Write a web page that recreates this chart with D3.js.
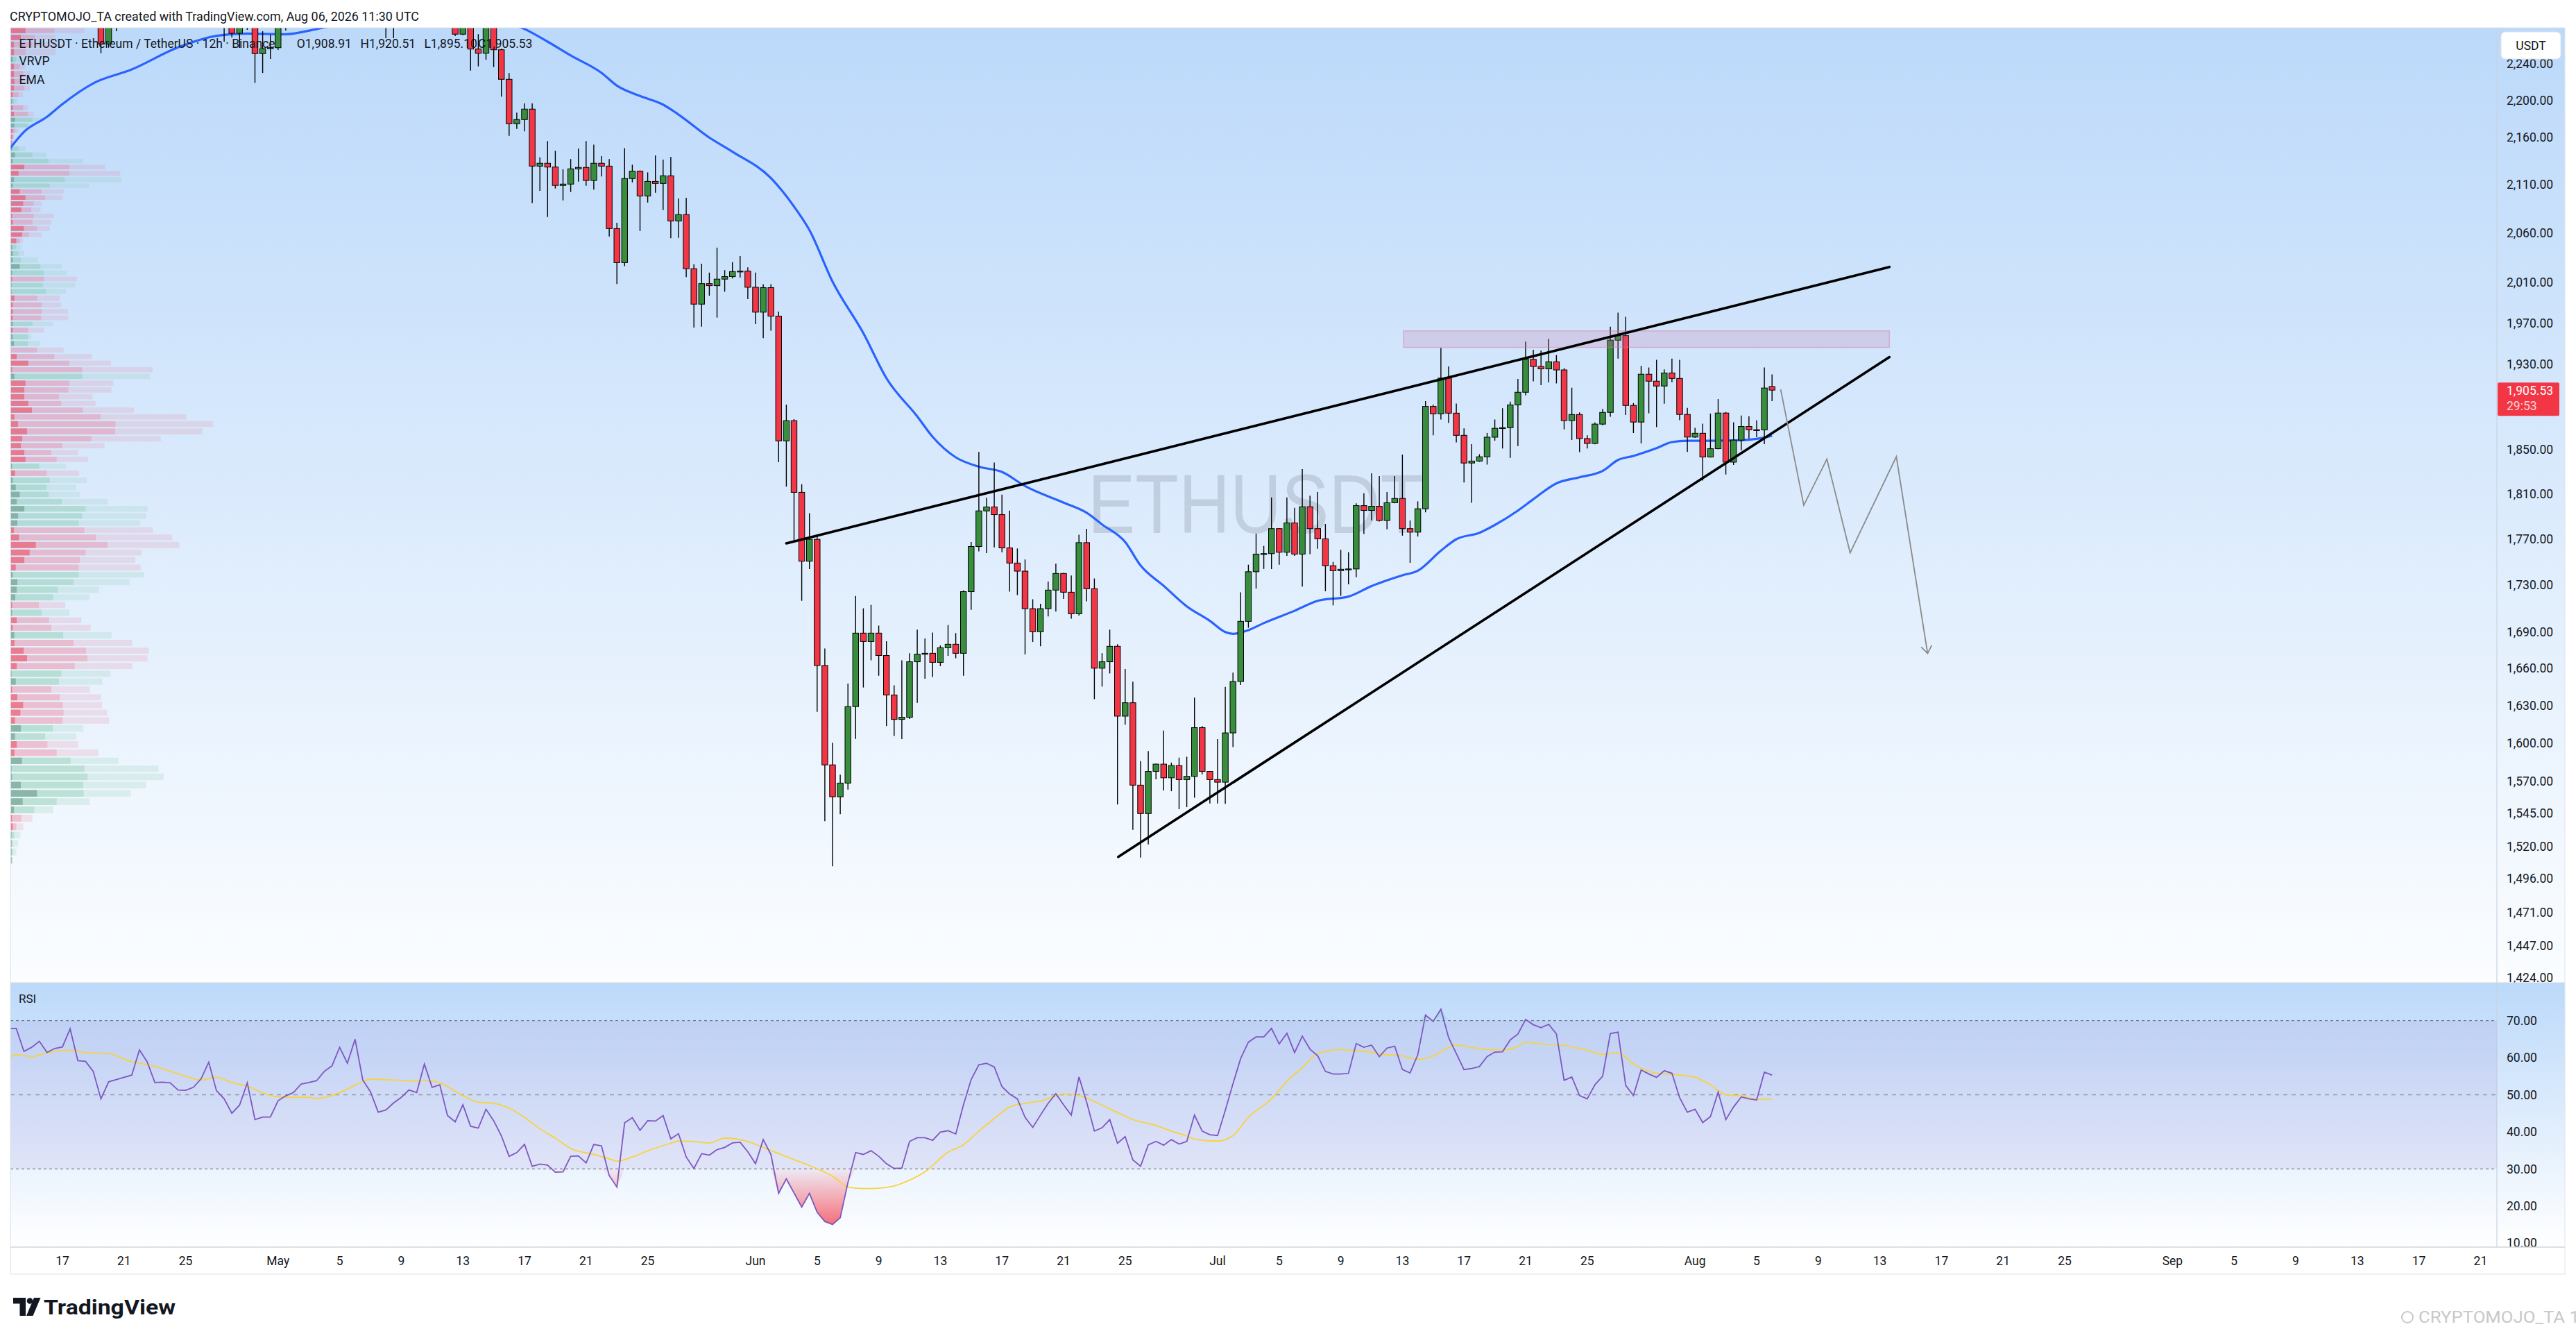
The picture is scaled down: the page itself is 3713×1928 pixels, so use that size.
<!DOCTYPE html>
<html><head><meta charset="utf-8">
<script src="https://cdn.jsdelivr.net/npm/d3@7"></script>
<style>html,body{margin:0;padding:0;background:#fff;}svg{display:block;}text{font-family:Roboto,"Noto Sans",sans-serif;}</style>
</head><body><svg id="c" width="3713" height="1928"></svg>
<script>
// ---------- DATA ----------
const candleStart = Date.UTC(2026,3,13,12);   // first 12h candle
const HALF_DAY = 12*3600*1000;
const open = [2330,2345,2348,2322,2328,2338,2318,2324,2327,2355,2322,2320,2305,2262.2,2292,2296,2300,2304,2342,2328,2306,2307,2305,2297,2296,2300,2310,2330,2295,2286,2274.2,2284,2306,2251.4,2257,2258,2282,2290,2295,2306,2308,2311,2322,2329,2354,2336,2378,2330,2312,2288,2291,2298,2304,2312,2309,2345,2318,2321,2288,2273.2,2296,2256.5,2251.8,2284,2255.7,2222.9,2174.5,2179,2190.3,2129.3,2132.3,2128.3,2109,2110.4,2126.4,2127.9,2114.2,2132.3,2129.3,2064.4,2029.9,2116.2,2123.9,2098,2113.2,2111.1,2119.1,2072.2,2078.7,2023.7,1988.5,2008.8,2006.8,2013.3,2015.8,2020.8,2021.3,2005.2,1980.6,2004.8,1976.7,1858.2,1876.9,1811.4,1750.6,1769.7,1662.4,1582.5,1557.7,1568.3,1628.9,1689.3,1682.3,1689.3,1670.7,1638.3,1618.6,1620.3,1665.5,1671.7,1672.5,1665,1677.1,1680,1672.5,1724.4,1763.4,1794.8,1798.3,1791.5,1762.2,1749,1742,1709.9,1690.5,1709.9,1725.7,1740,1723.9,1705.6,1766.8,1726.9,1660.2,1665.5,1678.3,1621.2,1632,1566.7,1544.8,1577.4,1583.1,1572.4,1582,1571,1573.5,1612,1577.4,1571,1569,1607.8,1649.3,1699.2,1741.5,1756.8,1757.2,1779.1,1758.4,1784.1,1756.8,1798.5,1779.1,1770.1,1746.7,1742.4,1743.6,1743.9,1799.5,1795.2,1798.9,1786.3,1802.1,1805.9,1779.1,1776,1796.7,1890.2,1883.3,1916.9,1883.9,1863.3,1837.9,1839.7,1843.6,1861.6,1869.8,1870.4,1891.6,1903.5,1934.8,1928,1925.7,1932.5,1924.7,1877,1882.6,1860.3,1855.8,1873.7,1884.6,1953.3,1957.7,1891.1,1875.6,1920.6,1914,1909.4,1921.8,1916.6,1882.7,1861.7,1865.2,1843.4,1851,1884,1838.7,1858.9,1871.5,1868.5,1868.3,1908.91];
const high = [2352,2360,2352,2336,2345,2340,2330,2334,2362,2358,2330,2324,2312,2300,2302,2306,2310,2348,2346,2332,2314,2312,2308,2304,2306,2312,2334,2332,2300,2290,2292,2312,2310,2276.5,2272.6,2290,2296,2300,2310,2314,2316,2326,2334,2360,2358,2385,2382,2336,2316,2298,2302,2310,2318,2316,2352,2348,2326,2324,2294,2302,2300,2273.2,2290,2288,2257,2229.9,2186.5,2196.5,2196.5,2138.6,2155.9,2145.5,2125.9,2136.7,2147.9,2155.9,2152.1,2139.8,2136.7,2070.3,2148.4,2130.8,2124.7,2122.7,2140.6,2136.2,2139.1,2095.4,2096.1,2028.3,2028.8,2019.8,2045,2022.3,2030.3,2036.4,2025,2019.8,2008.2,2008.2,1981.1,1891.9,1878.3,1818.7,1792.7,1774.1,1676.4,1600,1574.9,1647.6,1720.7,1710.2,1713.1,1695.6,1682.5,1646.2,1666.7,1672.6,1692.2,1684.9,1689.7,1679,1696.1,1689.3,1725.5,1767.3,1848,1806.6,1838.3,1809.3,1795,1761.7,1752.1,1717.9,1714.1,1733.1,1748.4,1740.5,1738.2,1773.7,1778.9,1735.7,1672.6,1692.2,1680,1659.5,1649.1,1585.4,1593.4,1583.5,1609.7,1584.3,1588.2,1588.9,1636.2,1613.3,1577.6,1602.8,1644.9,1656.5,1723.8,1747.6,1774.7,1763.9,1806.8,1779.5,1806.8,1797.6,1832.3,1808.4,1811.6,1783.2,1750,1760.5,1758.4,1801.6,1810.6,1828.5,1826,1811.6,1826,1845.6,1786.3,1803.3,1895.2,1891.9,1945.8,1928,1892.9,1869.8,1855.1,1845.9,1865.5,1878,1888.5,1894.6,1916.2,1951.9,1944,1943.3,1954.6,1938.9,1926.4,1907.8,1884.6,1863.3,1875.3,1887.8,1966.4,1980.2,1976.1,1893.3,1928.6,1927,1934.3,1925.3,1935.6,1934.3,1888.8,1870.3,1874.1,1883.5,1897.1,1885,1875.4,1881.7,1881,1877.2,1927,1920.51];
const low = [2322,2338,2318,2315,2322,2312,2310,2316,2324,2318,2312,2298,2251.8,2258,2276.5,2288,2292,2300,2322,2300,2298,2298,2292,2290,2291,2296,2306,2292,2264.8,2269.5,2257.8,2278.1,2219,2229.9,2245.4,2255.5,2277.3,2284,2290,2300,2302,2306,2316,2325,2330,2332,2322,2305,2282,2268.7,2268.7,2292,2300,2302,2306,2310,2310,2284,2271,2272.1,2232.5,2237.2,2244.6,2236.4,2203.8,2161.4,2168.9,2166.4,2090.5,2103.4,2076.2,2105.8,2093.4,2102.2,2113,2108.6,2104.6,2118.4,2056.3,2008.4,2026.3,2112.2,2061.9,2091.2,2101.4,2083.4,2054.5,2054.9,2015.3,1965.5,1966.4,1996.9,1975.3,2000.8,2014,2014.8,1993.4,1968.9,1955.2,1962.5,1838.6,1816.5,1768.5,1716.6,1743.8,1624.7,1539,1504.9,1544.3,1563.3,1603,1644.4,1666.7,1654,1613.3,1605.3,1602.8,1619,1632,1651.5,1653,1661.9,1670.4,1668.4,1654,1708.9,1759.1,1757.6,1762.7,1758.4,1724.4,1721.5,1671.5,1681.9,1678.3,1703.3,1707.4,1718.2,1701.5,1704,1716.2,1634.9,1645.1,1655.9,1551.8,1614.4,1532.4,1511.5,1521.4,1571.2,1562.6,1562,1548.1,1549.7,1557,1575.1,1552.5,1552.5,1552.3,1596.5,1646.4,1693.8,1727,1743.9,1743.8,1747.6,1755.2,1755.2,1728.7,1756.8,1761.5,1724.7,1712.7,1720.8,1730.7,1736.8,1774.4,1786.3,1785.4,1778.5,1801.5,1772.9,1749.2,1772.2,1793.6,1863.3,1878,1874.7,1856.7,1820.2,1802.1,1839,1836.5,1858.4,1851.2,1842.6,1853.4,1900.5,1913.9,1910.2,1912.8,1911.9,1868.8,1859,1847.9,1851.2,1855,1872.5,1880.6,1935.5,1882.2,1865.4,1855.8,1883.8,1870.9,1892.8,1913,1877.4,1848,1861,1822,1842.9,1850.5,1827.5,1836.2,1849.5,1860.3,1861.6,1855.1,1895.10];
const close = [2345,2348,2322,2328,2338,2318,2324,2327,2355,2322,2320,2305,2262.2,2292,2296,2300,2304,2342,2328,2306,2307,2305,2297,2296,2300,2310,2330,2295,2286,2274.2,2284,2306,2251.4,2257,2258,2282,2290,2295,2306,2308,2311,2322,2329,2354,2336,2378,2330,2312,2288,2291,2298,2304,2312,2309,2345,2318,2321,2288,2273.2,2296,2256.5,2251.8,2284,2255.7,2222.9,2174.5,2179,2190.3,2129.3,2132.3,2128.3,2109,2110.4,2126.4,2127.9,2114.2,2132.3,2129.3,2064.4,2029.9,2116.2,2123.9,2098,2113.2,2111.1,2119.1,2072.2,2078.7,2023.7,1988.5,2008.8,2006.8,2013.3,2015.8,2020.8,2021.3,2005.2,1980.6,2004.8,1976.7,1858.2,1876.9,1811.4,1750.6,1769.7,1662.4,1582.5,1557.7,1568.3,1628.9,1689.3,1682.3,1689.3,1670.7,1638.3,1618.6,1620.3,1665.5,1671.7,1672.5,1665,1677.1,1680,1672.5,1724.4,1763.4,1794.8,1798.3,1791.5,1762.2,1749,1742,1709.9,1690.5,1709.9,1725.7,1740,1723.9,1705.6,1766.8,1726.9,1660.2,1665.5,1678.3,1621.2,1632,1566.7,1544.8,1577.4,1583.1,1572.4,1582,1571,1573.5,1612,1577.4,1571,1569,1607.8,1649.3,1699.2,1741.5,1756.8,1757.2,1779.1,1758.4,1784.1,1756.8,1798.5,1779.1,1770.1,1746.7,1742.4,1743.6,1743.9,1799.5,1795.2,1798.9,1786.3,1802.1,1805.9,1779.1,1776,1796.7,1890.2,1883.3,1916.9,1883.9,1863.3,1837.9,1839.7,1843.6,1861.6,1869.8,1870.4,1891.6,1903.5,1934.8,1928,1925.7,1932.5,1924.7,1877,1882.6,1860.3,1855.8,1873.7,1884.6,1953.3,1957.7,1891.1,1875.6,1920.6,1914,1909.4,1921.8,1916.6,1882.7,1861.7,1865.2,1843.4,1851,1884,1838.7,1858.9,1871.5,1868.5,1868.3,1907.5,1905.53];

const rsi = [67.8,67.9,61.7,62.8,64.4,61.4,62.5,62.9,67.8,59.2,59.0,56.3,48.9,53.5,54.1,54.7,55.3,62.1,58.9,53.3,53.4,53.2,51.3,51.2,52.0,54.3,58.8,51.1,48.9,45.0,47.2,53.2,43.3,44.0,44.0,48.4,49.7,50.6,52.9,53.3,53.8,56.3,57.8,62.8,58.5,65.0,54.0,50.8,45.3,45.9,47.8,49.3,51.3,50.6,58.3,52.0,52.7,44.4,42.7,47.3,41.5,41.0,46.1,43.0,38.9,33.4,34.4,36.6,30.7,31.3,31.0,29.1,29.2,33.4,33.5,31.6,36.6,36.2,28.2,25.1,42.4,43.8,40.4,43.0,42.9,44.4,38.1,39.5,33.2,30.1,34.1,33.7,35.2,35.8,37.0,37.2,34.6,31.4,37.9,33.9,23.4,27.3,23.5,19.7,23.4,18.3,15.8,15.0,16.8,26.3,34.4,33.9,34.9,33.4,31.4,30.1,30.2,37.4,38.4,38.4,37.7,39.9,40.3,39.4,47.3,54.1,58.1,58.5,57.5,52.2,50.2,48.9,43.9,41.2,44.5,47.7,50.3,47.3,44.5,54.8,48.0,40.2,41.1,43.3,36.9,38.7,32.4,30.7,36.5,37.4,36.4,37.9,36.7,37.4,44.5,40.2,39.2,39.0,45.8,53.0,59.8,64.2,65.6,65.6,67.9,63.7,66.6,61.4,65.8,62.3,60.5,56.3,55.6,55.6,55.8,63.8,62.8,63.4,60.3,62.6,63.1,56.8,55.9,60.8,71.5,69.8,73.1,65.4,61.1,56.8,57.1,57.6,60.3,61.5,61.6,64.8,66.4,70.3,68.9,68.1,69.0,66.4,53.9,54.8,49.8,48.9,52.7,55.0,66.5,66.9,52.5,49.8,56.7,55.6,54.7,56.5,55.8,49.2,45.3,46.1,42.5,44.1,50.7,43.3,46.7,49.4,48.9,48.6,56.1,55.3];
const rsiMaIdx = [0,1,3,5,8,10,13,16,18,21,23,25,27,29,31,34,36,39,40,42,44,46,47,50,53,54,56,59,61,63,65,67,69,71,73,76,78,79,81,83,86,87,89,91,93,96,98,101,104,107,109,110,112,115,116,119,122,124,126,128,130,132,134,137,139,142,144,146,149,151,153,154,157,159,161,164,166,168,170,173,175,177,178,181,183,185,188,190,192,194,196,197,199,202,205,207,209,211,214,216,219,221,223,225,227,229];
const rsiMaVal = [59.8,60.8,60.3,61.3,62.0,61.4,61.1,58.9,58.1,56.4,55.0,54.0,54.7,53.3,52.3,49.8,49.3,49.3,49.0,49.8,51.5,53.6,54.2,54.0,53.7,53.9,53.2,49.8,48.0,47.7,46.4,43.9,40.8,38.3,35.5,33.9,32.7,32.1,33.2,34.9,36.9,37.5,37.4,37.0,38.3,37.4,35.8,33.3,30.9,28.0,25.1,24.8,24.7,25.4,26.1,29.2,34.5,36.5,40.2,43.6,46.7,47.7,48.3,50.2,49.8,47.2,45.2,43.3,41.7,40.2,38.9,38.0,37.5,39.0,43.9,48.9,53.6,57.3,61.1,62.2,61.8,61.5,61.0,60.5,59.5,60.5,63.4,62.8,62.2,62.1,63.0,64.2,63.7,63.3,62.0,60.9,61.3,58.3,55.8,55.5,54.7,52.7,50.0,49.7,48.8,48.8];
const emaIdx = [0,2,5,7,11,16,22,27,31,36,40,44,50,56,62,67,70,73,77,79,82,85,87,91,94,99,102,104,107,111,114,118,120,123,126,129,132,137,140,142,145,147,150,153,156,158,159,161,163,167,170,174,177,181,183,186,188,191,193,196,198,201,204,207,209,211,214,216,218,221,225,227,229];
const emaVal = [2146.0,2165.7,2182.0,2195.8,2218.5,2233.8,2258.3,2271.3,2273.9,2273.1,2279.0,2286,2292,2292,2290,2279.0,2264.8,2249.3,2230.0,2216.0,2204.6,2195.2,2184.4,2159.6,2144.6,2116.6,2087.0,2062.8,2010.8,1960.1,1916.8,1880.9,1861.9,1843.1,1834.6,1829.8,1817.0,1802.2,1793.1,1782.8,1767.3,1746.9,1729.4,1711.9,1699.6,1690.2,1688.7,1691.8,1697.7,1708.1,1716.6,1720.2,1729.2,1738.4,1742.4,1759.8,1769.8,1775.4,1782.3,1795.1,1805.2,1819.5,1825.0,1830.7,1840.7,1844.4,1851.5,1857.1,1858.3,1858.3,1858.8,1860.1,1862.9];

// volume profile rows (top -> bottom)
const vpPrice = [2277.3,2269.3,2261.9,2252.7,2244.7,2237.4,2228.3,2220.4,2213.2,2206.0,2198.8,2191.6,2185.0,2178.5,2172.6,2166.7,2160.8,2153.8,2148.0,2141.0,2134.6,2128.2,2121.8,2114.9,2108.6,2102.9,2096.0,2090.3,2083.5,2077.3,2071.0,2064.3,2058.1,2052.0,2045.2,2039.1,2032.4,2025.8,2019.7,2013.2,2007.2,2001.3,1994.2,1987.7,1981.2,1974.8,1969.0,1963.2,1956.3,1950.0,1943.7,1937.4,1931.1,1924.9,1918.6,1911.9,1905.8,1899.1,1892.9,1886.8,1880.2,1874.1,1866.6,1860.1,1853.6,1847.5,1841.0,1835.1,1828.6,1822.2,1815.8,1809.4,1803.0,1796.6,1790.3,1784.0,1777.7,1771.4,1764.7,1758.0,1751.8,1744.9,1738.8,1732.6,1726.0,1719.5,1712.9,1706.4,1699.9,1693.9,1687.5,1681.0,1674.6,1668.3,1661.9,1655.6,1649.3,1642.6,1636.4,1630.1,1623.9,1617.8,1611.2,1605.0,1598.5,1592.0,1585.6,1579.5,1573.1,1566.7,1560.3,1553.9,1547.6,1541.2,1534.6,1528.3,1522.1,1515.5,1509.4];
const vpSide = ("rrrrgrrrrr"+"grrggrrrgg"+"grrggrrrrr"+"rrrrgggggr"+"ggrrrrgrgg"+"rrrrgrrrrr"+"rrrrrrrgrg"+"ggggggrrrr"+"rrggggrgrr"+"grrrrggrrr"+"rrggrrgggg"+"gggrrgggg").split("");
const vpA = [63,43,13,13,8,13,13,15,13,8,5,8,13,18,15,8,5,3,5,18,8,58,33,13,8,38,63,53,45,5,8,56,48,23,5,8,8,38,5,5,3,3,15,8,8,8,8,8,8,13,0,25,75,5,15,63,58,58,75,91,15,31,70,49,43,58,63,5,18,8,21,38,25,58,31,28,13,35,108,81,58,21,8,28,25,19,5,5,25,8,15,15,55,70,25,3,21,5,28,53,41,18,43,18,25,15,48,3,5,43,113,51,13,5,8,3,3,3,3];
const vpB = [188,103,93,63,23,38,53,48,58,33,13,53,73,93,73,18,11,8,33,93,163,253,253,233,168,133,148,98,88,98,93,113,78,38,23,33,43,128,143,143,138,153,113,133,133,131,93,75,73,73,113,188,253,308,308,253,248,208,218,311,388,453,451,348,223,175,198,123,155,168,153,163,221,323,308,293,318,368,418,323,298,293,293,271,203,183,121,133,165,175,226,271,325,331,276,218,208,175,211,225,228,223,181,148,158,198,258,318,331,313,315,198,101,45,23,15,8,8,5];
const vpC = [318,193,193,193,53,63,83,83,83,53,28,73,98,138,98,33,13,11,63,153,313,408,473,478,338,228,223,133,128,186,175,168,133,53,45,58,118,221,243,285,278,238,211,218,248,248,181,143,88,125,228,351,433,613,601,443,435,353,366,533,758,875,828,648,405,291,333,238,295,328,283,298,418,591,585,558,615,698,728,565,538,561,576,513,381,339,235,253,305,345,435,525,596,591,525,431,395,341,390,395,416,425,313,283,291,378,465,638,660,585,518,341,183,93,53,41,31,23,8];

const priceTicks = [2240,2200,2160,2110,2060,2010,1970,1930,1850,1810,1770,1730,1690,1660,1630,1600,1570,1545,1520,1496,1471,1447,1424];
const rsiTicks = [70,60,50,40,30,20,10];
const dateTicks = [["2026-04-17","17"],["2026-04-21","21"],["2026-04-25","25"],["2026-05-01","May"],["2026-05-05","5"],["2026-05-09","9"],["2026-05-13","13"],["2026-05-17","17"],["2026-05-21","21"],["2026-05-25","25"],["2026-06-01","Jun"],["2026-06-05","5"],["2026-06-09","9"],["2026-06-13","13"],["2026-06-17","17"],["2026-06-21","21"],["2026-06-25","25"],["2026-07-01","Jul"],["2026-07-05","5"],["2026-07-09","9"],["2026-07-13","13"],["2026-07-17","17"],["2026-07-21","21"],["2026-07-25","25"],["2026-08-01","Aug"],["2026-08-05","5"],["2026-08-09","9"],["2026-08-13","13"],["2026-08-17","17"],["2026-08-21","21"],["2026-08-25","25"],["2026-09-01","Sep"],["2026-09-05","5"],["2026-09-09","9"],["2026-09-13","13"],["2026-09-17","17"],["2026-09-21","21"]];

const upperTrend = [["2026-06-03T00:00Z",1766.2],["2026-08-13T14:53Z",2025.5]];
const lowerTrend = [["2026-06-24T13:12Z",1512.0],["2026-08-13T14:53Z",1937.0]];
const zoneTime = ["2026-07-13T01:40Z","2026-08-13T14:53Z"];
const zonePrice = [1946.3,1962.3];
const projection = [["2026-08-06T13:26Z",1906.2],["2026-08-08T01:26Z",1799.8],["2026-08-09T13:26Z",1841.5],["2026-08-11T01:41Z",1757.9],["2026-08-14T01:41Z",1843.7],["2026-08-16T02:24Z",1672.4]];
const lastPrice = 1905.53, countdown = "29:53";

// ---------- LAYOUT ----------
const L=15, R=3599, AXR=3697, PT=40, PB=1416, RT=1416, RB=1797;
const svg = d3.select("#c");
const x = d3.scaleUtc().domain([new Date("2026-04-17"), new Date("2026-09-21")]).range([90, 3575.4]);
const y = d3.scaleLog().domain([1424, 2240]).range([1409, 92]);
const yR = d3.scaleLinear().domain([30, 70]).range([1684.3, 1470.7]);
const vx = d3.scaleLinear().domain([0, 900]).range([0, 300]);
const tOf = i => new Date(candleStart + i*HALF_DAY);
const cx = i => x(tOf(i));

const defs = svg.append("defs");
function lg(id, y1, y2, stops){
  const g = defs.append("linearGradient").attr("id",id).attr("gradientUnits","userSpaceOnUse")
    .attr("x1",0).attr("x2",0).attr("y1",y1).attr("y2",y2);
  stops.forEach(s=>g.append("stop").attr("offset",s[0]).attr("stop-color",s[1]).attr("stop-opacity",s[2]==null?1:s[2]));
}
lg("gPrice", PT, PB, [[0,"#bcd9fa"],[1,"#fbfdff"]]);
lg("gRsi", RT, RB, [[0,"#bcd9fa"],[1,"#ffffff"]]);
lg("gOS", yR(30), yR(12), [[0,"#f23645",0.05],[1,"#f23645",0.85]]);
lg("gOB", yR(70), yR(85), [[0,"#089981",0.05],[1,"#089981",0.85]]);
defs.append("clipPath").attr("id","cpP").append("rect").attr("x",L).attr("y",PT).attr("width",R-L).attr("height",PB-PT);
defs.append("clipPath").attr("id","cpR").append("rect").attr("x",L).attr("y",RT).attr("width",R-L).attr("height",RB-RT);
defs.append("clipPath").attr("id","cpPA").append("rect").attr("x",R).attr("y",PT).attr("width",AXR-R).attr("height",PB-PT);
defs.append("clipPath").attr("id","cpRA").append("rect").attr("x",R).attr("y",RT).attr("width",AXR-R).attr("height",RB-RT);

// header
svg.append("text").attr("x",14).attr("y",30).attr("font-size",19).attr("fill","#131722")
  .attr("textLength",590).attr("lengthAdjust","spacingAndGlyphs")
  .text("CRYPTOMOJO_TA created with TradingView.com, Aug 06, 2026 11:30 UTC");

// backgrounds
svg.append("rect").attr("x",L).attr("y",PT).attr("width",AXR-L).attr("height",PB-PT).attr("fill","url(#gPrice)");
svg.append("rect").attr("x",L).attr("y",RT).attr("width",AXR-L).attr("height",RB-RT).attr("fill","url(#gRsi)");

const gP = svg.append("g").attr("clip-path","url(#cpP)");

// watermark
gP.append("text").attr("x",1568).attr("y",768).attr("font-size",121).attr("textLength",484)
  .attr("lengthAdjust","spacingAndGlyphs").attr("fill","rgba(110,118,135,0.24)")
  .style("font-family","'Liberation Sans',Arial,sans-serif").text("ETHUSDT");

// volume profile
const vpCol = {r:["rgba(235,110,140,0.17)","rgba(235,110,140,0.27)","rgba(235,60,80,0.5)"],
               g:["rgba(120,200,160,0.18)","rgba(120,200,160,0.30)","rgba(80,130,110,0.45)"]};
const vpY = vpPrice.map(p=>y(p));
const gVP = gP.append("g");
vpPrice.forEach((p,k)=>{
  const up = k>0 ? vpY[k]-vpY[k-1] : vpY[1]-vpY[0];
  const dn = k<vpY.length-1 ? vpY[k+1]-vpY[k] : up;
  const top = vpY[k]-up/2+1, h = Math.max(1,(up+dn)/2-2.2);
  const cols = vpCol[vpSide[k]];
  [[vpC[k],0],[vpB[k],1],[vpA[k],2]].forEach(([v,ci])=>{
    if(v<=0) return;
    gVP.append("rect").attr("x",L+0.7).attr("y",top).attr("width",vx(v)).attr("height",h).attr("fill",cols[ci]);
  });
});

// EMA
const emaLine = d3.line().x(d=>cx(d[0])).y(d=>y(d[1])).curve(d3.curveMonotoneX);
gP.append("path").attr("d",emaLine(emaIdx.map((v,k)=>[v,emaVal[k]])))
  .attr("fill","none").attr("stroke","#2962ff").attr("stroke-width",3.2);

// candles
const gC = gP.append("g");
open.forEach((o,i)=>{
  const xc = cx(i), c = close[i];
  const up = c >= o;
  gC.append("line").attr("x1",xc).attr("x2",xc).attr("y1",y(high[i])).attr("y2",y(low[i]))
    .attr("stroke","#000").attr("stroke-width",1.4);
  const yt = y(Math.max(o,c)), yb = y(Math.min(o,c));
  gC.append("rect").attr("x",xc-4.2).attr("y",yt).attr("width",8.4).attr("height",Math.max(1.2,yb-yt))
    .attr("fill",up?"#388e3c":"#f23645").attr("stroke","#000").attr("stroke-width",1);
});

// zone box
const zx0 = x(new Date(zoneTime[0])), zx1 = x(new Date(zoneTime[1]));
gP.append("rect").attr("x",zx0).attr("y",y(zonePrice[1])).attr("width",zx1-zx0).attr("height",y(zonePrice[0])-y(zonePrice[1]))
  .attr("fill","rgba(200,120,170,0.22)").attr("stroke","rgba(220,120,160,0.45)").attr("stroke-width",1.5);

// trend lines
[upperTrend, lowerTrend].forEach(tl=>{
  gP.append("line").attr("x1",x(new Date(tl[0][0]))).attr("y1",y(tl[0][1]))
    .attr("x2",x(new Date(tl[1][0]))).attr("y2",y(tl[1][1]))
    .attr("stroke","#000").attr("stroke-width",3.6).attr("stroke-linecap","round");
});

// projection path with arrow
const projPts = projection.map(d=>[x(new Date(d[0])), y(d[1])]);
gP.append("path").attr("d",d3.line()(projPts)).attr("fill","none").attr("stroke","#8a8a8a").attr("stroke-width",1.8);
{
  const a = projPts[projPts.length-2], b = projPts[projPts.length-1];
  const ang = Math.atan2(b[1]-a[1], b[0]-a[0]);
  const len = 13, sp = Math.PI/5;
  const w1 = [b[0]-len*Math.cos(ang-sp), b[1]-len*Math.sin(ang-sp)];
  const w2 = [b[0]-len*Math.cos(ang+sp), b[1]-len*Math.sin(ang+sp)];
  gP.append("path").attr("d",d3.line()([w1,b,w2])).attr("fill","none").attr("stroke","#8a8a8a").attr("stroke-width",1.8);
}

// legend
const leg = svg.append("g").attr("font-size",17.5).attr("fill","#131722");
leg.append("text").attr("x",27.6).attr("y",69).text("ETHUSDT · Ethereum / TetherUS · 12h · Binance");
[["O",open[open.length-1],427.7],["H",high[high.length-1],519.5],["L",low[low.length-1],611.4],["C",close[close.length-1],689]]
  .forEach(([k,v,px])=>leg.append("text").attr("x",px).attr("y",69).text(k+d3.format(",.2f")(v)));
leg.append("text").attr("x",27.6).attr("y",94).text("VRVP");
leg.append("text").attr("x",27.6).attr("y",121).text("EMA");

// price axis
svg.append("line").attr("x1",R).attr("x2",R).attr("y1",PT).attr("y2",RB).attr("stroke","#c9d3df").attr("stroke-width",1.2);
const gPA = svg.append("g").attr("clip-path","url(#cpPA)").attr("font-size",17.5).attr("fill","#131722");
priceTicks.forEach(p=>gPA.append("text").attr("x",3613).attr("y",y(p)).attr("dy","0.36em").text(d3.format(",.2f")(p)));
// USDT box
svg.append("rect").attr("x",3605).attr("y",46).attr("width",86).attr("height",39).attr("rx",6)
  .attr("fill","#fff").attr("stroke","#e0e3eb").attr("stroke-width",1);
svg.append("text").attr("x",3648).attr("y",66).attr("dy","0.36em").attr("text-anchor","middle")
  .attr("font-size",17.5).attr("fill","#131722").text("USDT");
// last price label
const yLast = y(lastPrice);
svg.append("rect").attr("x",3600).attr("y",yLast-11).attr("width",89).attr("height",48).attr("rx",2).attr("fill","#f23645");
svg.append("text").attr("x",3613).attr("y",yLast+1).attr("dy","0.36em").attr("font-size",17.5).attr("fill","#fff").text(d3.format(",.2f")(lastPrice));
svg.append("text").attr("x",3613).attr("y",yLast+23).attr("dy","0.36em").attr("font-size",17.5).attr("fill","rgba(255,255,255,0.8)").text(countdown);

// RSI pane
const gR = svg.append("g").attr("clip-path","url(#cpR)");
gR.append("rect").attr("x",L).attr("y",yR(70)).attr("width",R-L).attr("height",yR(30)-yR(70)).attr("fill","rgba(126,87,194,0.1)");
[[70,"#787b86"],[50,"#9598a1"],[30,"#787b86"]].forEach(([v,c])=>{
  gR.append("line").attr("x1",L).attr("x2",R).attr("y1",yR(v)).attr("y2",yR(v))
    .attr("stroke",c).attr("stroke-width",1.3).attr("stroke-dasharray",v===50?"6,6":"4,4");
});
const rsiPts = rsi.map((v,i)=>[i,v]);
gR.append("path").attr("d",d3.area().x(d=>cx(d[0])).y0(yR(30)).y1(d=>yR(Math.min(d[1],30)))(rsiPts)).attr("fill","url(#gOS)");
gR.append("path").attr("d",d3.area().x(d=>cx(d[0])).y0(yR(70)).y1(d=>yR(Math.max(d[1],70)))(rsiPts)).attr("fill","url(#gOB)");
gR.append("path").attr("d",d3.line().x(d=>cx(d[0])).y(d=>yR(d[1])).curve(d3.curveMonotoneX)(rsiMaIdx.map((v,k)=>[v,rsiMaVal[k]])))
  .attr("fill","none").attr("stroke","#f9d23c").attr("stroke-width",1.8);
gR.append("path").attr("d",d3.line().x(d=>cx(d[0])).y(d=>yR(d[1]))(rsiPts))
  .attr("fill","none").attr("stroke","#7e57c2").attr("stroke-width",1.8);
svg.append("text").attr("x",27).attr("y",1445).attr("font-size",17).attr("fill","#131722").text("RSI");
const gRA = svg.append("g").attr("clip-path","url(#cpRA)").attr("font-size",17.5).attr("fill","#131722");
rsiTicks.forEach(v=>gRA.append("text").attr("x",3613).attr("y",yR(v)).attr("dy","0.36em").text(d3.format(".2f")(v)));

// separators & frame
svg.append("line").attr("x1",L).attr("x2",AXR).attr("y1",PB).attr("y2",PB).attr("stroke","#d6dce6").attr("stroke-width",1);
svg.append("line").attr("x1",L).attr("x2",AXR).attr("y1",RB).attr("y2",RB).attr("stroke","#d1d4dc").attr("stroke-width",1.5);
svg.append("line").attr("x1",L).attr("x2",L).attr("y1",PT).attr("y2",1836).attr("stroke","#e0e3eb").attr("stroke-width",1.2);
svg.append("line").attr("x1",L).attr("x2",AXR).attr("y1",PT).attr("y2",PT).attr("stroke","#e0e3eb").attr("stroke-width",1);
svg.append("line").attr("x1",AXR).attr("x2",AXR).attr("y1",PT).attr("y2",1836).attr("stroke","#e0e3eb").attr("stroke-width",1);
svg.append("line").attr("x1",L).attr("x2",AXR).attr("y1",1836).attr("y2",1836).attr("stroke","#e0e3eb").attr("stroke-width",1);

// date axis
const gD = svg.append("g").attr("font-size",17.5).attr("fill","#131722").attr("text-anchor","middle");
dateTicks.forEach(([d,l])=>gD.append("text").attr("x",x(new Date(d))).attr("y",1823).text(l));

// footer logo
const gL = svg.append("g").attr("fill","#131722");
gL.append("path").attr("d","M19,1870H37V1896H28.5V1878.5H19Z");
gL.append("circle").attr("cx",43).attr("cy",1874.5).attr("r",4.3);
gL.append("path").attr("d","M49,1870H58.5L47.5,1896H38Z");
gL.append("text").attr("x",63).attr("y",1894).attr("font-size",30).attr("font-weight",700)
  .attr("textLength",190).attr("lengthAdjust","spacingAndGlyphs").text("TradingView");
svg.append("circle").attr("cx",3470).attr("cy",1898).attr("r",8).attr("fill","none").attr("stroke","#c8c8c8").attr("stroke-width",2);
svg.append("text").attr("x",3486).attr("y",1906).attr("font-size",23).attr("fill","#c8c8c8")
  .attr("textLength",232).attr("lengthAdjust","spacingAndGlyphs").text("CRYPTOMOJO_TA 1");
</script></body></html>
